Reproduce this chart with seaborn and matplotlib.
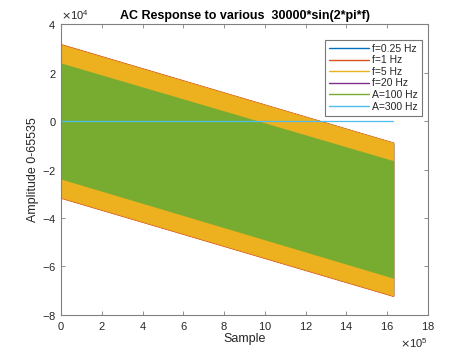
import matplotlib
matplotlib.use('Agg')
import matplotlib.pyplot as plt
import seaborn as sns
from matplotlib.ticker import ScalarFormatter
from matplotlib.lines import Line2D

# envelope of each signal (the sines are so dense they render as bands)
sample_ends = [0, 1630000]
labels = ['f=0.25 Hz', 'f=1 Hz', 'f=5 Hz', 'f=20 Hz', 'A=100 Hz', 'A=300 Hz']
colors = ['#0072BD', '#D95319', '#EDB120', '#7E2F8E', '#77AC30', '#4DBEEE']
upper_start = [31500, 31800, 31500, 31200, 23800, 0]
upper_end = [-9000, -8800, -9000, -9300, -16500, 0]
lower_start = [-31500, -31800, -31500, -31200, -23800, 0]
lower_end = [-72000, -72300, -72000, -71700, -64700, 0]
layer = [1, 3, 4, 2, 5, 6]

sns.set_theme(style='white')
plt.rcParams['font.family'] = ['Liberation Sans', 'DejaVu Sans']

fig = plt.figure(figsize=(4.74, 3.55), dpi=100)
ax = fig.add_axes([0.129, 0.113, 0.774, 0.819])

for i in range(len(labels)):
    if upper_start[i] == lower_start[i]:
        sns.lineplot(x=sample_ends, y=[upper_start[i], upper_end[i]], ax=ax,
                     color=colors[i], lw=0.9, zorder=layer[i])
    else:
        ax.fill_between(sample_ends, [lower_start[i], lower_end[i]],
                        [upper_start[i], upper_end[i]],
                        color=colors[i], lw=0.5, edgecolor=colors[i],
                        zorder=layer[i])

ax.set_xlim(0, 1800000)
ax.set_ylim(-80000, 40000)
ax.set_xticks([i * 200000 for i in range(10)])
ax.set_yticks([i * 20000 for i in range(-4, 3)])
for axis, p in ((ax.xaxis, 5), (ax.yaxis, 4)):
    fmt = ScalarFormatter(useMathText=True)
    fmt.set_powerlimits((p, p))
    axis.set_major_formatter(fmt)

gray = '#262626'
for s in ax.spines.values():
    s.set_color('#808080')
    s.set_linewidth(0.8)
    s.set_zorder(10)
ax.tick_params(direction='in', length=3, width=0.6, color='#808080',
               labelsize=8, labelcolor=gray, top=True, right=True,
               bottom=True, left=True, labeltop=False, labelright=False)
ax.xaxis.get_offset_text().set_fontsize(8)
ax.yaxis.get_offset_text().set_fontsize(8)
ax.xaxis.get_offset_text().set_color(gray)
ax.yaxis.get_offset_text().set_color(gray)

ax.set_xlabel('Sample', fontsize=9, color=gray, labelpad=1)
ax.set_ylabel('Amplitude 0-65535', fontsize=9, color=gray, labelpad=2)
ax.set_title('AC Response to various  30000*sin(2*pi*f)', fontsize=9,
             fontweight='bold', color='black', pad=4)

handles = [Line2D([0], [0], color=c, lw=1) for c in colors]
leg = ax.legend(handles, labels, loc='upper right', fontsize=7.5,
                frameon=True, fancybox=False, handlelength=3.8,
                handletextpad=0.3, labelspacing=0.15, borderpad=0.4,
                bbox_to_anchor=(0.997, 0.965))
leg.get_frame().set_edgecolor('#555555')
leg.get_frame().set_linewidth(0.8)
leg.set_zorder(20)
for t in leg.get_texts():
    t.set_color(gray)

fig.savefig('out.png', dpi=100)
